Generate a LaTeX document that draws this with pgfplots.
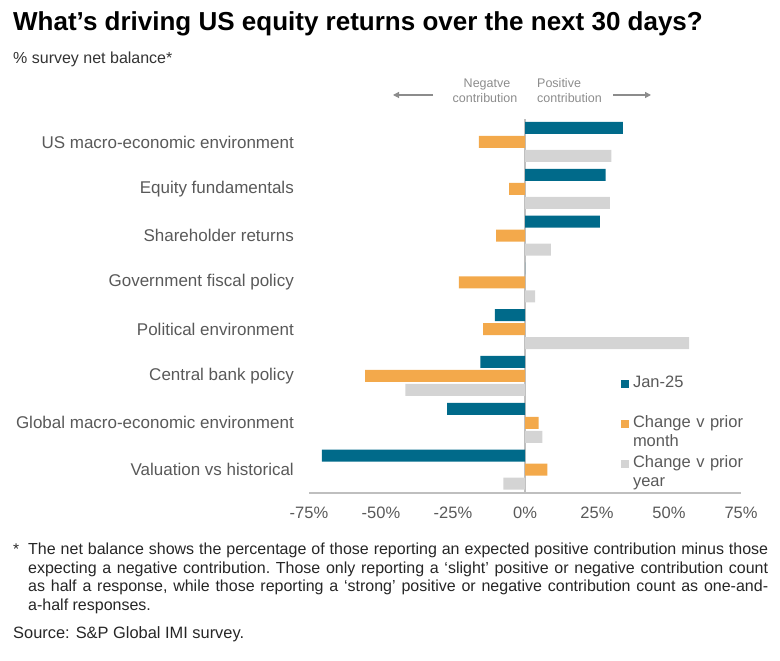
\documentclass[border=0pt]{standalone}
\usepackage{pgfplots}
\pgfplotsset{compat=1.18}
\usepackage{fontspec}
\setmainfont{Liberation Sans}
\usetikzlibrary{arrows.meta}

\definecolor{janc}{HTML}{006A8A}
\definecolor{monc}{HTML}{F3A94B}
\definecolor{yrc}{HTML}{D4D4D4}
\definecolor{labgrey}{HTML}{595959}
\definecolor{axgrey}{HTML}{BFBFBF}
\definecolor{arrgrey}{HTML}{8C8C8C}
\definecolor{footc}{HTML}{262626}

\begin{document}
\begin{tikzpicture}[x=1bp,y=1bp]
\begin{axis}[
  at={(309bp,168bp)}, anchor=south west,
  scale only axis, width=432bp, height=374.4bp,
  xbar, bar width=12bp,
  xmin=-75, xmax=75, ymin=0.5, ymax=8.5,
  xtick={-75,-50,-25,0,25,50,75},
  xticklabels={-75\%,-50\%,-25\%,0\%,25\%,50\%,75\%},
  ytick={1,...,8},
  yticklabels={Valuation vs historical,Global macro-economic environment,Central bank policy,Political environment,Government fiscal policy,Shareholder returns,Equity fundamentals,US macro-economic environment},
  axis x line*=bottom, axis y line*=left,
  y axis line style={draw=none},
  x axis line style={draw=axgrey, line width=1.2bp},
  major tick length=0pt,
  tick label style={font=\fontsize{16.5bp}{19bp}\selectfont, text=labgrey},
  xticklabel style={inner sep=0pt, yshift=-14bp},
  yticklabel style={inner sep=0pt, xshift=-15bp, font=\fontsize{17bp}{20bp}\selectfont},
  extra x ticks={0}, extra x tick labels={},
  extra x tick style={grid=major, major grid style={draw=axgrey, line width=1.2bp}},
  legend style={at={(0.7222,0.3125)}, anchor=north west, draw=none, fill=none,
    inner sep=0pt, outer sep=0pt, row sep=5bp, column sep=4bp,
    nodes={inner sep=0pt, text width=125bp, align=left, text height=12bp,
      text depth=23bp, anchor=base west, text=labgrey,
      font=\fontsize{16.5bp}{19bp}\selectfont}},
  clip=false,
]
% Jan-25
\addplot[fill=janc, draw=none, bar shift=14bp,
  legend image code/.code={\fill[janc] (0bp,0bp) rectangle (8bp,8bp);}]
  coordinates {(34,8) (28,7) (26,6) (0,5) (-10.5,4) (-15.5,3) (-27,2) (-70.5,1)};
\addlegendentry{Jan-25}
% change v prior month
\addplot[fill=monc, draw=none, bar shift=0bp,
  legend image code/.code={\fill[monc] (0bp,0bp) rectangle (8bp,8bp);}]
  coordinates {(-16,8) (-5.5,7) (-10,6) (-23,5) (-14.5,4) (-55.5,3) (4.7,2) (7.8,1)};
\addlegendentry{Change v prior\\month}
% change v prior year
\addplot[fill=yrc, draw=none, bar shift=-14bp,
  legend image code/.code={\fill[yrc] (0bp,0bp) rectangle (8bp,8bp);}]
  coordinates {(30,8) (29.5,7) (9,6) (3.5,5) (57,4) (-41.5,3) (6,2) (-7.5,1)};
\addlegendentry{Change v prior\\year}
\end{axis}

% titles
\node[anchor=base west, inner sep=0pt, font=\fontsize{26bp}{30bp}\selectfont\bfseries]
  at (13,630) {What’s driving US equity returns over the next 30 days?};
\node[anchor=base west, inner sep=0pt, font=\fontsize{16bp}{19bp}\selectfont, text=black!80]
  at (13,597) {\% survey net balance*};

% direction hints
\begin{scope}[every node/.style={inner sep=0pt, text=arrgrey, font=\fontsize{12.5bp}{15bp}\selectfont}]
\node[anchor=base] at (487,573) {Negatve};
\node[anchor=base] at (485,558) {contribution};
\node[anchor=base west] at (537,573) {Positive};
\node[anchor=base west] at (537,558) {contribution};
\end{scope}
\draw[draw=arrgrey, line width=1.2bp, -{Triangle[length=6bp,width=6bp]}] (433,566) -- (393,566);
\draw[draw=arrgrey, line width=1.2bp, -{Triangle[length=6bp,width=6bp]}] (613,566) -- (651,566);

% footnote
\node[anchor=base west, inner sep=0pt, text=footc, font=\fontsize{15.5bp}{18.5bp}\selectfont]
  at (13,106) {*};
\node[anchor=base west, inner sep=0pt, text width=740bp, align=justify, text=footc,
  font=\fontsize{16bp}{18.5bp}\selectfont]
  at (28,106) {\frenchspacing\hyphenpenalty=10000 The net balance shows the percentage of those reporting an expected positive contribution minus those\linebreak
  expecting a negative contribution. Those only reporting a ‘slight’ positive or negative contribution count\linebreak
  as half a response, while those reporting a ‘strong’ positive or negative contribution count as one-and-\linebreak
  a-half responses.};
\node[anchor=base west, inner sep=0pt, text=footc, font=\fontsize{16.4bp}{18.5bp}\selectfont]
  at (13,22) {Source: S\&P Global IMI survey.};

\pgfresetboundingbox
\path (0,0) rectangle (780,661);
\end{tikzpicture}
\end{document}
